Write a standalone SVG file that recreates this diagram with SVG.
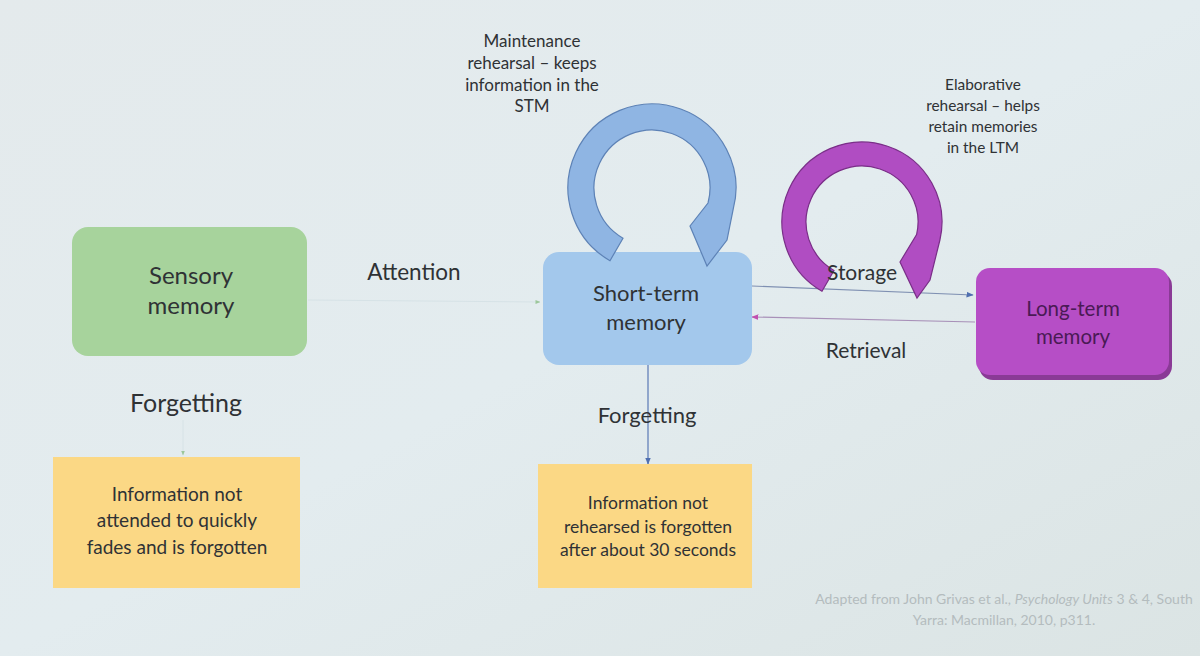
<svg xmlns="http://www.w3.org/2000/svg" width="1200" height="656" viewBox="0 0 1200 656">
<defs>
<linearGradient id="bg" x1="0" y1="0" x2="1" y2="1">
<stop offset="0" stop-color="#e4eaec"/>
<stop offset="0.5" stop-color="#e3ecef"/>
<stop offset="1" stop-color="#dbe4e4"/>
</linearGradient>
<marker id="mBlue" viewBox="0 0 10 10" refX="9" refY="5" markerWidth="6" markerHeight="6" orient="auto"><path d="M0,1 L10,5 L0,9 Z" fill="#4f6fb0"/></marker>
<marker id="mPink" viewBox="0 0 10 10" refX="9" refY="5" markerWidth="6" markerHeight="6" orient="auto"><path d="M0,1 L10,5 L0,9 Z" fill="#c050b0"/></marker>
<marker id="mGreen" viewBox="0 0 10 10" refX="9" refY="5" markerWidth="5" markerHeight="5" orient="auto"><path d="M0,1 L10,5 L0,9 Z" fill="#9cc79a"/></marker>
<marker id="mDown" viewBox="0 0 10 10" refX="9" refY="5" markerWidth="6" markerHeight="6" orient="auto"><path d="M0,1 L10,5 L0,9 Z" fill="#4f6fb0"/></marker>
</defs>
<style>
text{font-family:Lato,"Liberation Sans",sans-serif;fill:#2f3235;text-anchor:middle}
.cite{font-size:14px;fill:#b4bcbe}
</style>
<rect width="1200" height="656" fill="url(#bg)"/>

<g id="connectors">
<line x1="308" y1="300" x2="540" y2="302" stroke="#d6e2e6" stroke-width="1" marker-end="url(#mGreen)"/>
<line x1="183" y1="420" x2="183" y2="455" stroke="#d6e2e6" stroke-width="1" marker-end="url(#mGreen)"/>
<line x1="752" y1="286" x2="973" y2="295" stroke="#7f90b2" stroke-width="1.2" marker-end="url(#mBlue)"/>
<line x1="975" y1="322" x2="752" y2="317" stroke="#a890b8" stroke-width="1.2" marker-end="url(#mPink)"/>
<line x1="648" y1="364" x2="648" y2="464" stroke="#5a78b5" stroke-width="1.2" marker-end="url(#mDown)"/>
</g>

<g id="sensory">
<rect x="72" y="227" width="235" height="129" rx="16" fill="#a7d39c"/>
<text x="191" y="284" font-size="24">Sensory</text>
<text x="191" y="314" font-size="24">memory</text>
</g>

<g id="stm">
<rect x="543" y="252" width="209" height="113" rx="16" fill="#a3c8ec"/>
<text x="646" y="301" font-size="22">Short-term</text>
<text x="646" y="330" font-size="22">memory</text>
</g>

<g id="ltm">
<rect x="979" y="272" width="193" height="108" rx="14" fill="#8a3a96"/>
<rect x="976" y="268" width="193" height="107" rx="14" fill="#b64ec6"/>
<text x="1073" y="316" font-size="20.5" style="fill:#4a1a55">Long-term</text>
<text x="1073" y="344" font-size="20.5" style="fill:#4a1a55">memory</text>
</g>

<g id="stm-loop">
<path d="M610,260.7 A84,84 0 1 1 733.1,209.7 L727,240 L707,266 L690,226 L708,203 A58,58 0 1 0 623,238.2 Z" fill="#8fb5e3" stroke="#5d82b6" stroke-width="1.2"/>
</g>

<g id="ltm-loop">
<path d="M822,291.3 A80,80 0 1 1 939.9,240 L930,280 L917,298 L900,262 L916.6,234.6 A56,56 0 1 0 834,270.5 Z" fill="#b04dc2" stroke="#7a2e88" stroke-width="1.2"/>
</g>

<g id="forget-sensory">
<rect x="53" y="457" width="247" height="131" fill="#fbd885"/>
<text x="177" y="501" font-size="19">Information not</text>
<text x="177" y="527" font-size="19">attended to quickly</text>
<text x="177" y="554" font-size="19">fades and is forgotten</text>
</g>

<g id="forget-stm">
<rect x="538" y="464" width="214" height="124" fill="#fbd885"/>
<text x="648" y="509" font-size="17.5">Information not</text>
<text x="648" y="533" font-size="17.5">rehearsed is forgotten</text>
<text x="648" y="556" font-size="17.5">after about 30 seconds</text>
</g>

<g id="labels">
<text x="414" y="280" font-size="22.5">Attention</text>
<text x="186" y="412" font-size="25">Forgetting</text>
<text x="647" y="423" font-size="22">Forgetting</text>
<text x="862" y="280" font-size="21">Storage</text>
<text x="866" y="358" font-size="21">Retrieval</text>
<text x="532" y="47" font-size="17">Maintenance</text>
<text x="532" y="69" font-size="17">rehearsal – keeps</text>
<text x="532" y="91" font-size="17">information in the</text>
<text x="532" y="112" font-size="17">STM</text>
<text x="983" y="90" font-size="15.4">Elaborative</text>
<text x="983" y="111" font-size="15.4">rehearsal – helps</text>
<text x="983" y="132" font-size="15.4">retain memories</text>
<text x="983" y="153" font-size="15.4">in the LTM</text>
<text class="cite" x="1004" y="604">Adapted from John Grivas et al., <tspan font-style="italic">Psychology Units</tspan> 3 &amp; 4, South</text>
<text class="cite" x="1004" y="625">Yarra: Macmillan, 2010, p311.</text>
</g>
</svg>
